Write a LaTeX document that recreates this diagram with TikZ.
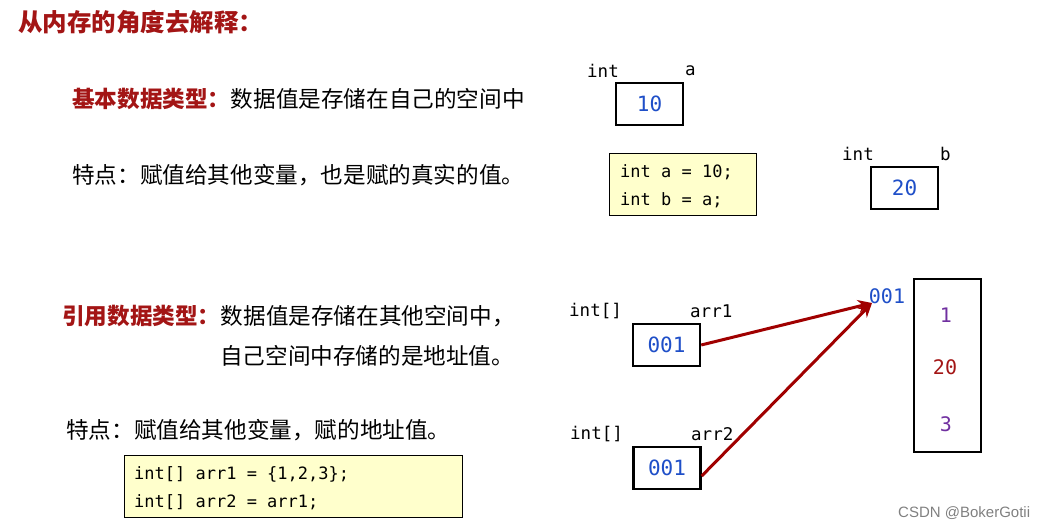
\documentclass[tikz,border=0pt]{standalone}
\usepackage{fontspec}
\setmainfont{Liberation Sans}
\setmonofont{DejaVu Sans Mono}
\newfontfamily\cjk{Noto Sans CJK SC}
\usetikzlibrary{arrows.meta}
\definecolor{dred}{HTML}{A31515}
\definecolor{vblue}{HTML}{1F4FC8}
\definecolor{vpurple}{HTML}{7030A0}
\definecolor{codebg}{HTML}{FFFFCC}
\definecolor{arrowred}{HTML}{A00000}
\tikzset{
  cn/.style={anchor=west, inner sep=0pt, font=\cjk\fontsize{22.6}{24}\selectfont},
  cnhead/.style={cn, text=dred, font=\cjk\bfseries\fontsize{22.6}{24}\selectfont},
  membox/.style={draw=black, line width=2.4pt, minimum width=67pt, minimum height=42pt, inner sep=0pt,
    text=vblue, font=\ttfamily\fontsize{21}{23}\selectfont},
  lbl/.style={inner sep=0pt, font=\ttfamily\fontsize{17.5}{19}\selectfont},
  codebox/.style={draw=black, line width=0.8pt, fill=codebg, anchor=north west, inner sep=0pt},
  code/.style={anchor=west, inner sep=0pt, font=\ttfamily\fontsize{17}{19}\selectfont},
  ptr/.style={draw=arrowred, line width=3pt, -{Stealth[length=14pt,width=13pt]}},
}
\begin{document}
\begin{tikzpicture}[x=1pt,y=-1pt]
\useasboundingbox (0,0) rectangle (1046,528);
% title
\node[anchor=west, inner sep=0pt, text=dred, font=\cjk\bfseries\fontsize{24.5}{26}\selectfont] (title) at (18,22) {从内存的角度去解释：};
% primitive
\node[cnhead] (h1) at (72,99) {基本数据类型：};
\node[cn] (t1) at (h1.east) {数据值是存储在自己的空间中};
\node[cn] (t2) at (72,175) {特点：赋值给其他变量，也是赋的真实的值。};
% reference
\node[cnhead] (h2) at (62,316) {引用数据类型：};
\node[cn] (t3) at (h2.east) {数据值是存储在其他空间中，};
\node[cn] (t4) at (220,356) {自己空间中存储的是地址值。};
\node[cn] (t5) at (66,430) {特点：赋值给其他变量，赋的地址值。};
% code box bottom
\node[codebox, minimum width=338pt, minimum height=62pt] (cb2) at (124,455) {};
\node[code] (c21) at (134,474) {int[] arr1 = \{1,2,3\};};
\node[code] (c22) at (134,502) {int[] arr2 = arr1;};
% code box top
\node[codebox, minimum width=147pt, minimum height=62pt] (cb1) at (609,153) {};
\node[code] (c11) at (620,172) {int a = 10;};
\node[code] (c12) at (620,200) {int b = a;};
% box a
\node[membox] (a) at (649.5,104) {10};
\node[lbl, anchor=west] (ta) at (587,71) {int};
\node[lbl, anchor=west] (na) at (685,71) {a};
% box b
\node[membox] (b) at (904.5,188) {20};
\node[lbl, anchor=west] (tb) at (842,154) {int};
\node[lbl, anchor=west] (nb) at (940,154) {b};
% arr1
\node[membox] (arr1) at (666.5,345) {001};
\node[lbl, anchor=west] (tarr1) at (569,311) {int[]};
\node[lbl, anchor=west] (narr1) at (690,311) {arr1};
% arr2
\node[membox] (arr2) at (667,468) {001};
\node[lbl, anchor=west] (tarr2) at (570,434) {int[]};
\node[lbl, anchor=west] (narr2) at (691,434) {arr2};
% array
\node[draw=black, line width=2.4pt, minimum width=67pt, minimum height=173pt, inner sep=0pt] (arr) at (947.5,365.5) {};
\node[inner sep=0pt, text=vpurple, font=\ttfamily\fontsize{20}{22}\selectfont] (v1) at (946,315) {1};
\node[inner sep=0pt, text=dred, font=\ttfamily\fontsize{20}{22}\selectfont] (v2) at (945,367) {20};
\node[inner sep=0pt, text=vpurple, font=\ttfamily\fontsize{20}{22}\selectfont] (v3) at (946,424) {3};
\node[inner sep=0pt, text=vblue, font=\ttfamily\fontsize{20}{22}\selectfont] (addr) at (887,296) {001};
\coordinate (tip) at (872,303);
% arrows
\draw[ptr] (arr1.east) -- (tip);
\draw[ptr] ([yshift=-8pt]arr2.east) -- (tip);
% watermark
\node[anchor=west, inner sep=0pt, text=gray, font=\fontsize{15}{17}\selectfont] (wm) at (898,513) {CSDN @BokerGotii};
\end{tikzpicture}
\end{document}
